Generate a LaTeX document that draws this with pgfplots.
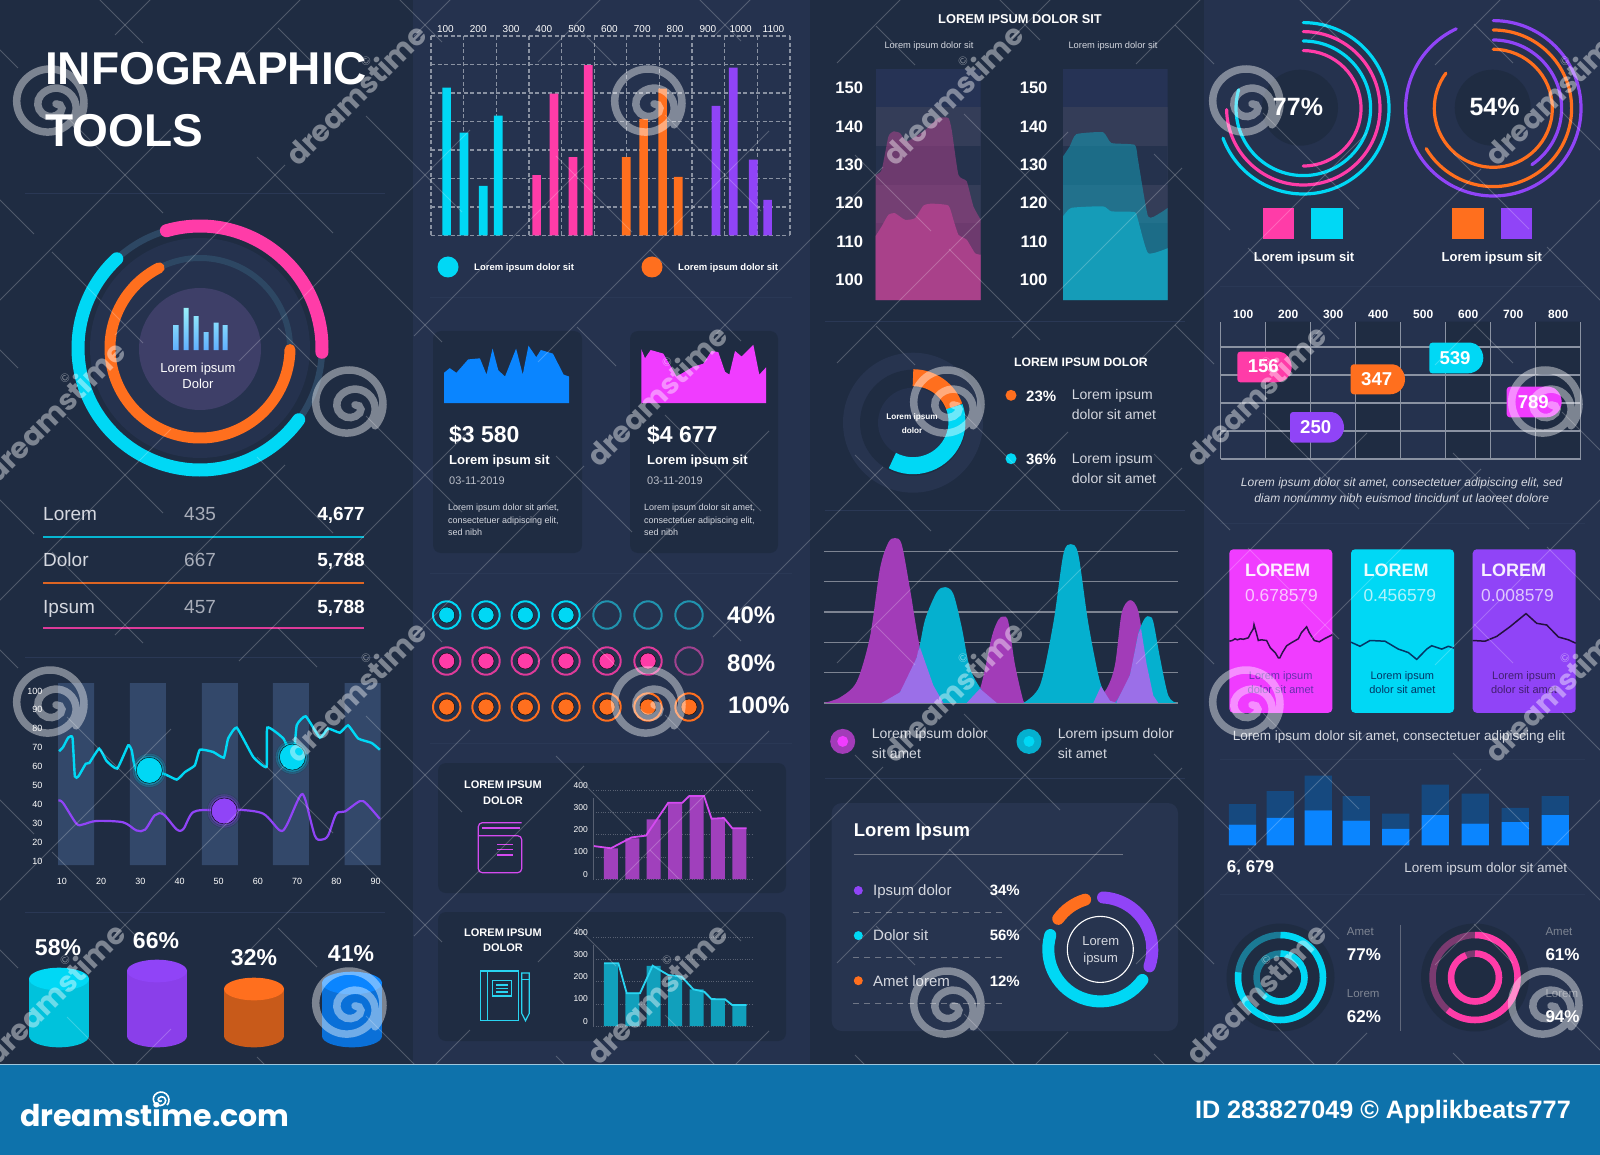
\documentclass[border=0pt]{standalone}
\usepackage{fontspec}
\usepackage{pgfplots}
\pgfplotsset{compat=1.18}
\setmainfont{Liberation Sans}
\newfontfamily\wmfont{Poppins}

\definecolor{bgA}{HTML}{1F2C42}
\definecolor{bgB}{HTML}{25324E}
\definecolor{sepc}{HTML}{2A3855}
\definecolor{cCyan}{HTML}{00D8F5}
\definecolor{cPink}{HTML}{FF3CA8}
\definecolor{cOrange}{HTML}{FF6F1E}
\definecolor{cPurple}{HTML}{9044F7}
\definecolor{cMag}{HTML}{F03CFF}
\definecolor{cBlue}{HTML}{0A85FF}
\definecolor{soft}{HTML}{D5D8E0}
\definecolor{gridg}{HTML}{6F7686}
\definecolor{gridl}{HTML}{8A92A2}

% picture units are reference pixels, y measured down from the top
\newcommand{\txt}[6]{\node[anchor=#1,inner sep=0pt,text=#5,font=\fontsize{#4}{#4}\selectfont] at (#2,-#3) {#6};}
\newcommand{\rrect}[6]{\fill[#6,rounded corners=#1pt] (#2,-#3) rectangle (#4,-#5);}
\newcommand{\seph}[3]{\draw[sepc,line width=1pt] (#1,-#3) -- (#2,-#3);}
\newcommand{\arcr}[8][line cap=round]{\draw[#7,line width=#8pt,#1] ([shift={(#5:#4pt)}]#2,-#3) arc[start angle=#5,end angle=#6,radius=#4pt];}
\newcommand{\tagshape}[5]{%
  \pgfmathsetmacro\rr{(#4-#2)/2}\pgfmathsetmacro\xm{#3-\rr}%
  \fill[#5,rounded corners=3pt] (#1,-#2) -- (\xm,-#2) [sharp corners] arc[start angle=90,end angle=-90,radius=\rr] [rounded corners=3pt] -- (#1,-#4) -- cycle;}
\newcommand{\spiral}[2]{\draw[white,opacity=.42,line width=7.5pt,line cap=round]
  ([shift={(-40:34pt)}]#1,-#2) arc[start angle=-40,end angle=140,radius=34pt]
  arc[start angle=140,end angle=320,radius=31pt]
  arc[start angle=-40,end angle=140,radius=20pt]
  arc[start angle=140,end angle=320,radius=13pt]
  arc[start angle=-40,end angle=100,radius=5pt];}

\pgfplotsset{
  base/.style={scale only axis,anchor=north west,axis line style={draw=none},tick style={draw=none},
    xtick=\empty,ytick=\empty,
    /pgf/number format/assume math mode=true,/pgf/number format/1000 sep={}},
  ticksz/.style={tick label style={font=\fontsize{#1}{#1}\selectfont,text=white}},
}
\definecolor{discc}{HTML}{3E3F68}\definecolor{track}{HTML}{2D4763}\definecolor{colbar}{HTML}{33486A}
\definecolor{cyA}{HTML}{00C2DC}\definecolor{cyB}{HTML}{8A3FEA}\definecolor{cyC}{HTML}{C85A1A}\definecolor{cyD}{HTML}{0A70D8}
\definecolor{dimC}{HTML}{2193AE}\definecolor{dimP}{HTML}{A0428F}
\definecolor{barM}{HTML}{A040BC}\definecolor{lineM}{HTML}{D44AF0}\definecolor{barT}{HTML}{11A0BC}\definecolor{lineT}{HTML}{29D5F2}
\definecolor{bandA}{HTML}{263355}\definecolor{bandB}{HTML}{343D58}\definecolor{bandC}{HTML}{25324D}
\definecolor{magA}{HTML}{A9418A}\definecolor{tealA}{HTML}{159CB8}\definecolor{dkA}{HTML}{27344F}
\definecolor{peakP}{HTML}{A23CB8}\definecolor{peakC}{HTML}{05B0CF}\definecolor{peakL}{HTML}{9B6FE8}
\definecolor{blueD}{HTML}{16497F}\definecolor{dimTeal}{HTML}{1A7A95}\definecolor{dimPink}{HTML}{7A3A70}
\definecolor{bannerc}{HTML}{0E72AB}

\begin{document}
\begin{tikzpicture}[x=1pt,y=1pt]
\path (0,0) rectangle (1600,-1155);
\begin{scope}[overlay]
\clip (0,0) rectangle (1600,-1155);
\fill[bgA] (0,0) rectangle (1600,-1155);
\fill[bgB] (413,0) rectangle (810,-1155);
\fill[bgB] (1204,0) rectangle (1600,-1155);

% separators
\seph{25}{385}{194}\seph{25}{385}{657}\seph{25}{385}{912}
\seph{430}{792}{298}\seph{430}{792}{573}\seph{430}{792}{743}
\seph{825}{1185}{322}\seph{825}{1185}{510}\seph{825}{1185}{778}
\seph{1220}{1585}{287}\seph{1220}{1585}{523}\seph{1220}{1585}{759}\seph{1220}{1585}{894}

% ---- column 1: title, ring, table
\txt{base west}{45}{85}{46}{white}{\bfseries INFOGRAPHIC}
\txt{base west}{45}{147}{46}{white}{\bfseries TOOLS}
\fill[bgB] (200,-348) circle[radius=110pt];
\fill[discc] (200,-349) circle[radius=61pt];
\arcr{200}{348}{122}{133}{106}{track}{6.5}
\arcr{200}{348}{122}{-2}{-36}{track}{6.5}
\arcr{200}{348}{122}{106}{-2}{cPink}{13}
\arcr{200}{348}{122}{133}{324}{cCyan}{13}
\arcr{200}{348}{90}{117}{-1}{track}{6}
\arcr{200}{348}{90}{117}{359}{cOrange}{11}
\begin{axis}[base,at={(170pt,-300pt)},width=62pt,height=50pt,xmin=170,xmax=232,ymin=0,ymax=50]
\addplot[ybar,bar width=5pt,bar shift=0pt,draw=none,top color=cCyan!40!white,bottom color=cBlue!65!white]
  coordinates {(176,25)(186,42)(196,34)(206,18)(216,27.5)(225,25)};
\end{axis}
\txt{base}{198}{372}{13}{white}{Lorem ipsum}
\txt{base}{198}{388}{13}{white}{Dolor}
\txt{base west}{43}{520}{19}{soft}{Lorem}
\txt{base west}{43}{566}{19}{soft}{Dolor}
\txt{base west}{43}{613}{19}{soft}{Ipsum}
\txt{base west}{184}{520}{19}{soft!75!bgA}{435}
\txt{base west}{184}{566}{19}{soft!75!bgA}{667}
\txt{base west}{184}{613}{19}{soft!75!bgA}{457}
\txt{base east}{365}{520}{19}{white}{\bfseries 4,677}
\txt{base east}{365}{566}{19}{white}{\bfseries 5,788}
\txt{base east}{365}{613}{19}{white}{\bfseries 5,788}
\draw[cCyan!80!bgA,line width=1.2pt] (43,-537) -- (364,-537);
\draw[cOrange!85!bgA,line width=1.2pt] (43,-583) -- (364,-583);
\draw[cPink!85!bgA,line width=1.2pt] (43,-628) -- (364,-628);

% ---- column 1: lines over columns
\begin{axis}[base,ticksz=9,at={(58pt,-683pt)},width=323pt,height=182pt,xmin=9,xmax=91.4,ymin=7.9,ymax=104.2,
  xtick={10,20,...,90},ytick={10,20,...,100},
  xticklabel style={yshift=-10pt},yticklabel style={xshift=-12pt}]
\addplot[ybar,bar width=36pt,bar shift=0pt,fill=colbar,draw=none]
  coordinates {(13.6,104.2)(31.9,104.2)(50.3,104.2)(68.4,104.2)(86.7,104.2)};
\addplot[cCyan,line width=2.4pt,smooth,tension=.25] coordinates {
 (9.3,68.1)(10.3,70.3)(11.6,75.3)(12.7,75.3)(13.3,54.8)(14.2,54.8)(16.1,61.5)(17,61.9)(19.5,69.5)
 (21.4,62.9)(24.1,58.9)(26.9,71.2)(27.8,68.6)(29,58)(35.9,56.2)(39.3,53.1)(41.4,57.1)(43.9,60.6)
 (45.2,68.9)(48.6,67.7)(51.3,64.7)(52.4,74.8)(54.6,80.6)(58.8,65.1)(62.2,59.8)(62.4,80.6)(66.5,74.8)
 (69,64.2)(69.9,81.8)(72.2,86.6)(75.8,75.3)(77.9,80.1)(80.9,77.9)(83,81.8)(85.6,74.8)(89,72.5)(91.1,68.9)};
\addplot[cPurple,line width=2.2pt,smooth] coordinates {
 (9.1,42.1)(10.3,40.7)(13.7,29.8)(15.4,29.4)(18.8,31.2)(25.6,30.5)(29,26.2)(31.2,26.6)(33.7,34.2)
 (35.9,34.7)(39.3,26.7)(41,27)(43.5,35.9)(48.6,37.1)(55.4,37.1)(61.4,35)(65.6,26.2)(67.3,28.8)
 (70.7,44.2)(72,43)(74.5,23.5)(76.2,21.3)(77.9,23.5)(80,35)(82.2,36.2)(86,41.7)(87.7,40.3)(91.1,32.3)};
\addplot[only marks,mark=*,mark size=17pt,mark options={draw=none,fill=cCyan,opacity=.18}] coordinates {(32.3,58)(68.8,65)};
\addplot[only marks,mark=*,mark size=15pt,mark options={draw=none,fill=cCyan,opacity=.3}] coordinates {(32.3,58)(68.8,65)};
\addplot[only marks,mark=*,mark size=17pt,mark options={draw=none,fill=cPurple,opacity=.18}] coordinates {(51.4,36.5)};
\addplot[only marks,mark=*,mark size=15pt,mark options={draw=none,fill=cPurple,opacity=.3}] coordinates {(51.4,36.5)};
\addplot[only marks,mark=*,mark size=13pt,mark options={draw=none,fill=cCyan}] coordinates {(32.3,58)(68.8,65)};
\addplot[only marks,mark=*,mark size=13pt,mark options={draw=none,fill=cPurple}] coordinates {(51.4,36.5)};
\end{axis}

% ---- column 1: cylinders
\begin{axis}[base,at={(0pt,-940pt)},width=400pt,height=96pt,xmin=0,xmax=400,ymin=0,ymax=96,clip=false]
\fill[cyA] (axis cs:59,0) ellipse[x radius=30pt,y radius=11.3pt];
\fill[cyB] (axis cs:157,0) ellipse[x radius=30pt,y radius=11.3pt];
\fill[cyC] (axis cs:254,0) ellipse[x radius=30pt,y radius=11.3pt];
\fill[cyD] (axis cs:352,0) ellipse[x radius=30pt,y radius=11.3pt];
\addplot[ybar,bar width=60pt,bar shift=0pt,fill=cyA,draw=none] coordinates {(59,57)};
\addplot[ybar,bar width=60pt,bar shift=0pt,fill=cyB,draw=none] coordinates {(157,65)};
\addplot[ybar,bar width=60pt,bar shift=0pt,fill=cyC,draw=none] coordinates {(254,47)};
\addplot[ybar,bar width=60pt,bar shift=0pt,fill=cyD,draw=none] coordinates {(352,53)};
\fill[cCyan] (axis cs:59,57) ellipse[x radius=30pt,y radius=11.3pt];
\fill[cPurple] (axis cs:157,65) ellipse[x radius=30pt,y radius=11.3pt];
\fill[cOrange] (axis cs:254,47) ellipse[x radius=30pt,y radius=11.3pt];
\fill[cBlue] (axis cs:352,53) ellipse[x radius=30pt,y radius=11.3pt];
\end{axis}
\txt{base}{58}{955}{23}{white}{\bfseries 58\%}
\txt{base}{156}{948}{23}{white}{\bfseries 66\%}
\txt{base}{254}{965}{23}{white}{\bfseries 32\%}
\txt{base}{351}{961}{23}{white}{\bfseries 41\%}

% ---- column 2: grouped bars
\begin{axis}[base,ticksz=10,at={(431pt,-36pt)},width=359pt,height=199.5pt,xmin=56,xmax=1150.5,ymin=0,ymax=70,
  xtick={100,200,...,1100},xticklabel pos=top,
  minor xtick={56,155.5,255,354.5,454,553.5,653,752.5,852,951.5,1051,1150.5},xminorgrids=true,
  ytick={0,10,...,70},yticklabels={},ymajorgrids=true,
  grid style={dash pattern=on 4pt off 2.5pt,gridl,line width=1.2pt},minor grid style={dash pattern=on 4pt off 2.5pt,gridl,line width=1.2pt}]
\addplot[ybar,bar width=8.7pt,bar shift=0pt,fill=cCyan,draw=none] coordinates {(103.6,51.9)(156.4,36.1)(215.3,17.4)(261.1,42.1)};
\addplot[ybar,bar width=8.7pt,bar shift=0pt,fill=cPink,draw=none] coordinates {(378,21.2)(430.8,49.8)(488.7,27.5)(535.4,59.8)};
\addplot[ybar,bar width=8.7pt,bar shift=0pt,fill=cOrange,draw=none] coordinates {(651.3,27.5)(704.2,40.9)(762.1,51.5)(809.9,20.6)};
\addplot[ybar,bar width=8.7pt,bar shift=0pt,fill=cPurple,draw=none] coordinates {(924.7,45.5)(977.4,58.9)(1038.4,26.6)(1082.3,12.5)};
\end{axis}
\fill[cCyan] (448,-267) circle[radius=10.5pt];
\fill[cOrange] (652,-267) circle[radius=10.5pt];
\txt{base west}{474}{270.5}{9.5}{white}{\bfseries Lorem ipsum dolor sit}
\txt{base west}{678}{270.5}{9.5}{white}{\bfseries Lorem ipsum dolor sit}

% ---- column 2: cards
\rrect{8}{433}{331}{582}{553}{bgA}
\rrect{8}{630}{331}{778}{553}{bgA}
\begin{axis}[base,at={(444pt,-343pt)},width=125pt,height=60pt,xmin=0,xmax=124.3,ymin=0,ymax=60]
\addplot[fill=cBlue,draw=none] coordinates {(0,30.2)(5.7,34.9)(12.3,30.2)(24,43.6)(35.7,44.7)(42.3,28.4)(48.3,54.5)(54,32.7)(60.7,26.5)(71.7,54.5)(78.3,28.4)(84,57.4)(91.7,45.8)(96.3,53)(108.3,49.4)(119,28.4)(124.3,26.5)} \closedcycle;
\end{axis}
\begin{axis}[base,at={(641.3pt,-343pt)},width=124.7pt,height=60pt,xmin=0,xmax=124.7,ymin=0,ymax=60]
\addplot[fill=cMag,draw=none] coordinates {(0,53.8)(3.7,44.7)(9.3,53)(22,49.4)(35.3,26.5)(52,36.3)(62,39.3)(70.3,52)(77,50.9)(83.7,31.3)(88,28.4)(93.7,52)(100.3,46.5)(112,58.2)(118,28.4)(124.7,35.6)} \closedcycle;
\end{axis}
\txt{base west}{449}{442}{23}{white}{\bfseries \$3 580}
\txt{base west}{449}{464.5}{13}{white}{\bfseries Lorem ipsum sit}
\txt{base west}{449}{484.5}{11}{soft!85!bgA}{03-11-2019}
\txt{base west}{448}{510.7}{9}{soft}{Lorem ipsum dolor sit amet,}
\txt{base west}{448}{523.4}{9}{soft}{consectetuer adipiscing elit,}
\txt{base west}{448}{535.5}{9}{soft}{sed nibh}
\txt{base west}{647}{442}{23}{white}{\bfseries \$4 677}
\txt{base west}{647}{464.5}{13}{white}{\bfseries Lorem ipsum sit}
\txt{base west}{647}{484.5}{11}{soft!85!bgA}{03-11-2019}
\txt{base west}{644}{510.7}{9}{soft}{Lorem ipsum dolor sit amet,}
\txt{base west}{644}{523.4}{9}{soft}{consectetuer adipiscing elit,}
\txt{base west}{644}{535.5}{9}{soft}{sed nibh}

% ---- column 2: dot rows
\begin{axis}[base,at={(0pt,0pt)},width=1600pt,height=1155pt,xmin=0,xmax=1600,ymin=0,ymax=1155,y dir=reverse,clip=false]
\addplot[only marks,mark=o,mark size=13.7pt,mark options={draw=cCyan,line width=2pt}] coordinates {(446.7,615)(486,615)(525.3,615)(566,615)};
\addplot[only marks,mark=o,mark size=13.7pt,mark options={draw=dimC,line width=2pt}] coordinates {(607,615)(648,615)(689,615)};
\addplot[only marks,mark=*,mark size=8pt,mark options={draw=none,fill=cCyan}] coordinates {(446.7,615)(486,615)(525.3,615)(566,615)};
\addplot[only marks,mark=o,mark size=13.7pt,mark options={draw=cPink!85!bgB,line width=2pt}] coordinates {(446.7,661)(486,661)(525.3,661)(566,661)(607,661)(648,661)};
\addplot[only marks,mark=o,mark size=13.7pt,mark options={draw=dimP,line width=2pt}] coordinates {(689,661)};
\addplot[only marks,mark=*,mark size=8pt,mark options={draw=none,fill=cPink}] coordinates {(446.7,661)(486,661)(525.3,661)(566,661)(607,661)(648,661)};
\addplot[only marks,mark=o,mark size=13.7pt,mark options={draw=cOrange,line width=2pt}] coordinates {(446.7,707)(486,707)(525.3,707)(566,707)(607,707)(648,707)(689,707)};
\addplot[only marks,mark=*,mark size=8pt,mark options={draw=none,fill=cOrange}] coordinates {(446.7,707)(486,707)(525.3,707)(566,707)(607,707)(648,707)(689,707)};
\end{axis}
\txt{base west}{727}{623}{24}{white}{\bfseries 40\%}
\txt{base west}{727}{671}{24}{white}{\bfseries 80\%}
\txt{base west}{728}{713}{24}{white}{\bfseries 100\%}

% ---- column 2: small combo charts
\rrect{8}{438}{763}{786}{893}{bgA}
\rrect{8}{438}{912}{786}{1041}{bgA}
\txt{base}{503}{788}{11}{white}{\bfseries LOREM IPSUM}
\txt{base}{503}{804}{11}{white}{\bfseries DOLOR}
\txt{base}{503}{936}{11}{white}{\bfseries LOREM IPSUM}
\txt{base}{503}{951}{11}{white}{\bfseries DOLOR}
\begin{axis}[base,ticksz=8.5,at={(593.3pt,-790pt)},width=160pt,height=89pt,xmin=0.18,xmax=7.65,ymin=0,ymax=400,clip=false,
  ytick={0,100,...,400},ymajorgrids=true,grid style={dotted,gridg!70!bgA},yticklabel style={yshift=4.7pt,xshift=-2pt}]
\draw[gridg!70!bgA] (axis cs:0.18,0) -- (axis cs:0.18,362);
\addplot[ybar,bar width=14pt,bar shift=0pt,fill=barM,draw=none] coordinates {(1,138)(2,183)(3,268)(4,345)(5,375)(6,274)(7,228)};
\addplot[lineM,line width=1.8pt] coordinates {(0.21,148)(1,138)(1.97,187)(2.64,195)(3.68,343)(4.34,343)(4.66,373)(5.35,373)(5.7,271)(6.28,274)(6.67,228)(7.34,228)};
\end{axis}
\begin{axis}[base,ticksz=8.5,at={(593.3pt,-937pt)},width=160pt,height=89pt,xmin=0.18,xmax=7.65,ymin=0,ymax=400,clip=false,
  ytick={0,100,...,400},ymajorgrids=true,grid style={dotted,gridg!70!bgA},yticklabel style={yshift=4.7pt,xshift=-2pt}]
\draw[gridg!70!bgA] (axis cs:0.18,0) -- (axis cs:0.18,362);
\addplot[ybar,bar width=14pt,bar shift=0pt,fill=barT,draw=none] coordinates {(1,282)(2,150)(3,270)(4,222)(5,165)(6,121)(7,94)};
\addplot[lineT,line width=1.8pt] coordinates {(0.68,282)(1.35,282)(1.74,147)(2.36,147)(2.95,271)(3.68,229)(4.3,222)(4.85,165)(5.36,154)(5.7,121)(6.33,120)(6.67,94)(7.34,94)};
\end{axis}
% icons
\begin{scope}[draw=lineM,line width=1.2pt,rounded corners=4pt]
\draw (521.7,-822.7) -- (478.3,-822.7) -- (478.3,-872.7) -- (521.7,-872.7) -- (521.7,-835.7) -- (478.3,-835.7);
\draw (520,-828) -- (482,-828);
\end{scope}
\draw[lineM,line width=1.1pt] (497.3,-844.3) -- (513.3,-844.3) (497.3,-849.5) -- (513.3,-849.5) (497.3,-855) -- (513.3,-855);
\begin{scope}[draw=lineT,line width=1.2pt]
\draw (480.7,-971) rectangle (518.3,-1020.7);
\draw (487.3,-971) -- (487.3,-1020.7);
\draw (492.7,-980.7) rectangle (511.7,-996);
\draw (496,-985) -- (508,-985) (496,-988.5) -- (508,-988.5) (496,-992) -- (508,-992);
\draw (521.7,-973) -- (529.3,-973) -- (529.3,-1013.3) -- (525.5,-1020.7) -- (521.7,-1013.3) -- cycle;
\draw (521.7,-979.3) -- (529.3,-979.3);
\end{scope}

% ---- column 3: layered areas
\txt{base}{1020}{24}{12.8}{white}{\bfseries LOREM IPSUM DOLOR SIT}
\txt{base}{929}{49}{9.3}{soft}{Lorem ipsum dolor sit}
\txt{base}{1113}{49}{9.3}{soft}{Lorem ipsum dolor sit}
\begin{axis}[base,at={(875.7pt,-69.3pt)},width=105pt,height=230.7pt,xmin=0,xmax=105,ymin=94.8,ymax=154.9,
  ytick={100,110,...,150},tick label style={font=\fontsize{16.6}{16.6}\selectfont\bfseries,text=white},yticklabel style={xshift=-9pt}]
\addplot[fill=bandA,draw=none] coordinates {(0,154.9)(105,154.9)} \closedcycle;
\addplot[fill=bandB,draw=none] coordinates {(0,145.1)(105,145.1)} \closedcycle;
\addplot[fill=bandC,draw=none] coordinates {(0,134.8)(105,134.8)} \closedcycle;
\addplot[fill=bandB,draw=none] coordinates {(0,124.8)(105,124.8)} \closedcycle;
\addplot[fill=bandC,draw=none] coordinates {(0,114.8)(105,114.8)} \closedcycle;
\addplot[fill=magA,fill opacity=.55,draw=none,smooth,tension=.3] coordinates {(0,127.4)(6,128.7)(12.7,137.4)(17.7,138.7)(24.3,138.3)(31,136.1)(47.7,138.7)(62.7,142.2)(72.7,142.2)(76,139.1)(82.7,127.4)(91,125.7)(97.7,119.2)(105,115.7)} \closedcycle;
\addplot[fill=magA,draw=none,smooth,tension=.3] coordinates {(0,111.5)(6,114)(12.7,117)(19.3,117.4)(29.3,115.7)(39.3,116.1)(47.7,119.4)(56,119.9)(72.7,119.4)(77.7,115.7)(82.7,111.8)(91,110.5)(99.3,107)(105,106.6)} \closedcycle;
\end{axis}
\begin{axis}[base,at={(1063pt,-69.3pt)},width=104.7pt,height=230.7pt,xmin=0,xmax=104.7,ymin=94.8,ymax=154.9,
  ytick={100,110,...,150},tick label style={font=\fontsize{16.6}{16.6}\selectfont\bfseries,text=white},yticklabel style={xshift=-12pt}]
\addplot[fill=bandA,draw=none] coordinates {(0,154.9)(105,154.9)} \closedcycle;
\addplot[fill=bandB,draw=none] coordinates {(0,145.1)(105,145.1)} \closedcycle;
\addplot[fill=bandC,draw=none] coordinates {(0,134.8)(105,134.8)} \closedcycle;
\addplot[fill=bandB,draw=none] coordinates {(0,124.8)(105,124.8)} \closedcycle;
\addplot[fill=bandC,draw=none] coordinates {(0,114.8)(105,114.8)} \closedcycle;
\addplot[fill=tealA,fill opacity=.55,draw=none,smooth,tension=.3] coordinates {(0,132.2)(6.7,134.8)(13.3,138)(40,138.5)(48.3,135.7)(71.7,135.2)(75,131.3)(85,116.6)(96.7,117.4)(104.7,118.8)} \closedcycle;
\addplot[fill=tealA,draw=none,smooth,tension=.3] coordinates {(0,116.6)(8.3,118.8)(40,119.2)(48.3,117.9)(71.7,117.7)(75,115.7)(85,107)(104.7,108.3)} \closedcycle;
\end{axis}

% ---- column 3: donut and legend
\fill[dkA] (913,-422.7) circle[radius=70pt];
\fill[bgA] (913,-422.7) circle[radius=53pt];
\fill[bgB] (913,-422.7) circle[radius=35pt];
\arcr[line cap=butt]{913}{421.7}{44}{90}{20}{cOrange}{17}
\arcr[line cap=butt]{913}{421.7}{44}{20}{-118}{cCyan}{17}
\txt{base}{912}{419}{8.2}{white}{\bfseries Lorem ipsum}
\txt{base}{912}{433.7}{8.2}{white}{\bfseries dolor}
\txt{base west}{1014}{366.7}{12.2}{white}{\bfseries LOREM IPSUM DOLOR}
\fill[cOrange] (1011,-395.3) circle[radius=5.5pt];
\fill[cCyan] (1011,-458.7) circle[radius=5.5pt];
\txt{base west}{1026}{401}{15}{white}{\bfseries 23\%}
\txt{base west}{1026}{464}{15}{white}{\bfseries 36\%}
\txt{base west}{1071.7}{399}{14}{soft}{Lorem ipsum}
\txt{base west}{1071.7}{419.3}{14}{soft}{dolor sit amet}
\txt{base west}{1071.7}{463}{14}{soft}{Lorem ipsum}
\txt{base west}{1071.7}{483}{14}{soft}{dolor sit amet}

% ---- column 3: overlapping peaks
\begin{axis}[base,at={(824pt,-521.1pt)},width=354pt,height=181.8pt,xmin=0,xmax=354,ymin=0,ymax=60,
  ytick={0,10,...,50},yticklabels={},ymajorgrids=true,grid style={gridg!90!white,line width=1.3pt}]
\addplot[fill=peakP,draw=none,smooth] coordinates {(0,0)(16,1.8)(32.7,7)(46,21.9)(56,44.4)(64.3,52.9)(71,54.4)(77.7,52.3)(86,37.6)(96,18.3)(109.3,5.8)(119.3,0)} \closedcycle;
\addplot[fill=peakP,draw=none,smooth] coordinates {(142.7,0)(156,4.7)(167.7,21.7)(174.3,27.4)(179.3,28.5)(184.3,26.8)(191,12.6)(199.3,0.7)(202.7,0)} \closedcycle;
\addplot[fill=peakP,draw=none,smooth] coordinates {(269.3,0)(282.7,4.7)(291,12.6)(297.7,29.7)(306,33.9)(314.3,30.2)(322.7,12.6)(329.3,2.4)(334.3,0)} \closedcycle;
\addplot[fill=peakC,draw=none,smooth] coordinates {(57.7,0)(76,3.5)(92.7,14.9)(101,27.4)(112.7,36.5)(121,38.2)(129.3,36)(137.7,25)(146,11.4)(159.3,3.5)(172.7,0)} \closedcycle;
\addplot[fill=peakC,draw=none,smooth] coordinates {(199.3,0)(216,5.8)(229.3,26.3)(239.3,49)(246.7,52.4)(254.3,49)(264.3,26.3)(276,7)(286,0.7)(292.7,0)} \closedcycle;
\addplot[fill=peakC,draw=none,smooth] coordinates {(287.7,0)(292.7,0.7)(306,9.2)(314.3,22.8)(321,28)(325.3,28.5)(329.3,26.8)(336,14.9)(344.3,2.4)(352.7,0)} \closedcycle;
\addplot[fill=peakL,draw=none] coordinates {(57.7,0)(76,3.5)(92.7,14.9)(94,17)(96,18.3)(109.3,5.8)(119.3,0)} \closedcycle;
\addplot[fill=peakL,draw=none] coordinates {(142.7,0)(156,4.7)(157,4.4)(172.7,0)} \closedcycle;
\addplot[fill=peakL,draw=none] coordinates {(269.3,0)(277,5.5)(286,0.7)(292.7,0)} \closedcycle;
\addplot[fill=peakL,draw=none] coordinates {(292.7,0.4)(306,9.2)(314.3,22.8)(317,24.6)(322.7,12.6)(329.3,2.4)(334.3,0)} \closedcycle;
\end{axis}
\fill[peakP] (842.7,-741.4) circle[radius=12.5pt];
\fill[cMag] (842.7,-741.4) circle[radius=5.5pt];
\fill[peakC] (1029,-741.4) circle[radius=12.5pt];
\fill[cCyan] (1029,-741.4) circle[radius=5.5pt];
\txt{base west}{871.7}{738.7}{14}{soft}{Lorem ipsum dolor}
\txt{base west}{871.7}{758.6}{14}{soft}{sit amet}
\txt{base west}{1057.7}{738.7}{14}{soft}{Lorem ipsum dolor}
\txt{base west}{1057.7}{758.6}{14}{soft}{sit amet}

% ---- column 3: list panel
\rrect{10}{831.7}{803}{1178}{1031}{dkA}
\txt{base west}{853.7}{836}{18.5}{white}{\bfseries Lorem Ipsum}
\draw[gridg,line width=1pt] (853.7,-854.7) -- (1123,-854.7);
\fill[cPurple] (858.3,-890.5) circle[radius=4.5pt];
\fill[cCyan] (858.3,-935.6) circle[radius=4.5pt];
\fill[cOrange] (858.3,-980.7) circle[radius=4.5pt];
\txt{base west}{873}{895.3}{15}{soft}{Ipsum dolor}
\txt{base west}{873}{940.8}{15}{soft}{Dolor sit}
\txt{base west}{873}{986}{15}{soft}{Amet lorem}
\txt{base east}{1020}{895.3}{15}{white}{\bfseries 34\%}
\txt{base east}{1020}{940.8}{15}{white}{\bfseries 56\%}
\txt{base east}{1020}{986}{15}{white}{\bfseries 12\%}
\draw[gridg,dash pattern=on 6pt off 5pt] (853,-911.9) -- (1006.7,-911.9) (853,-957.3) -- (1006.7,-957.3) (853,-1003) -- (1006.7,-1003);
\arcr{1100.3}{949.4}{52}{87}{-19}{cPurple}{12}
\arcr{1100.3}{949.4}{52}{164}{324}{cCyan}{12}
\arcr{1100.3}{949.4}{52}{144}{107}{cOrange}{12}
\draw[white,line width=1.1pt] (1100.3,-949.4) circle[radius=33pt];
\txt{base}{1100.7}{945}{13}{soft}{Lorem}
\txt{base}{1100.7}{962}{13}{soft}{ipsum}

% ---- column 4: concentric gauges
\fill[bgA] (1300,-107.7) circle[radius=38pt];
\fill[bgA] (1492.7,-107.7) circle[radius=38pt];
\arcr{1303.3}{108.3}{85.7}{90}{-159.6}{cCyan}{3.2}
\arcr{1303.3}{108.3}{76.7}{90}{-179}{cPink}{3.2}
\arcr{1303.3}{108.3}{67.3}{90}{-196}{cCyan}{3.2}
\arcr{1303.3}{108.3}{57.7}{90}{-90}{cPink}{3.2}
\arcr{1493.3}{108.3}{87.7}{90}{-245}{cPurple}{3.2}
\arcr{1493.3}{108.3}{78.3}{90}{-149}{cOrange}{3.2}
\arcr{1493.3}{108.3}{68.3}{90}{-55.6}{cPurple}{3.2}
\arcr{1493.3}{108.3}{59}{90}{-216.5}{cOrange}{3.2}
\txt{base}{1298}{115.7}{25}{white}{\bfseries 77\%}
\txt{base}{1494.5}{115.7}{25}{white}{\bfseries 54\%}
\fill[cPink] (1262.7,-207.7) rectangle (1294,-239);
\fill[cCyan] (1311.3,-207.7) rectangle (1342.7,-239);
\fill[cOrange] (1452.3,-207.7) rectangle (1484,-239);
\fill[cPurple] (1501,-207.7) rectangle (1532.3,-239);
\txt{base}{1304}{261.7}{13}{white}{\bfseries Lorem ipsum sit}
\txt{base}{1491.8}{261.7}{13}{white}{\bfseries Lorem ipsum sit}

% ---- column 4: table grid with tags
\begin{axis}[base,axis on top,at={(1220.7pt,-321.7pt)},width=360pt,height=137.3pt,xmin=50,xmax=850,ymin=0,ymax=4.9,
  xtick={100,200,...,800},xticklabel pos=top,
  tick label style={font=\fontsize{12}{12}\selectfont\bfseries,text=white},
  minor xtick={50,150,...,850},xminorgrids=true,ytick={0,1,2,3,4},yticklabels={},ymajorgrids=true,
  grid style={gridl,line width=1.4pt},minor grid style={gridl,line width=1.4pt}]
\addplot[ybar,bar width=45pt,bar shift=0pt,fill=bgA,draw=none] coordinates {(200,4.9)(400,4.9)(600,4.9)(800,4.9)};
\end{axis}
\tagshape{1237.3}{351.7}{1291.7}{382.3}{cPink}
\tagshape{1350.7}{364.3}{1405}{394.3}{cOrange}
\tagshape{1429.3}{342.7}{1483.3}{373.3}{cCyan}
\tagshape{1506.7}{386.7}{1561.7}{417.3}{cMag}
\tagshape{1290}{412}{1344}{442.7}{cPurple}
\txt{base}{1263.3}{372.7}{18.6}{white}{\bfseries 156}
\txt{base}{1376.7}{385.7}{18.6}{white}{\bfseries 347}
\txt{base}{1455}{364.3}{18.6}{white}{\bfseries 539}
\txt{base}{1533.3}{408.3}{18.6}{white}{\bfseries 789}
\txt{base}{1315.7}{433.3}{18.6}{white}{\bfseries 250}
\txt{base}{1401.7}{486}{12}{soft}{\itshape Lorem ipsum dolor sit amet, consectetuer adipiscing elit, sed}
\txt{base}{1401.7}{502.3}{12}{soft}{\itshape diam nonummy nibh euismod tincidunt ut laoreet dolore}

% ---- column 4: coloured cards
\rrect{4}{1229.3}{549.3}{1332.3}{712.8}{cMag}
\rrect{4}{1351}{549.3}{1454}{712.8}{cCyan}
\rrect{4}{1472.7}{549.3}{1575.7}{712.8}{cPurple}
\txt{base west}{1245}{576.8}{18}{white!92!cMag}{\bfseries LOREM}
\txt{base west}{1245}{601}{17.4}{white!70!cMag}{0.678579}
\txt{base west}{1363.3}{576.8}{18}{white!92!cCyan}{\bfseries LOREM}
\txt{base west}{1363.3}{601}{17.4}{white!70!cCyan}{0.456579}
\txt{base west}{1481}{576.8}{18}{white!92!cPurple}{\bfseries LOREM}
\txt{base west}{1481}{601}{17.4}{white!70!cPurple}{0.008579}
\begin{axis}[base,at={(1229.3pt,-549.3pt)},width=103pt,height=163.5pt,xmin=0,xmax=103,ymin=0,ymax=163.5,clip=false]
\addplot[color=black!70!cPurple,line width=1.5pt] coordinates {(0,71.6)(3,72.3)(5.7,74)(8,73)(11,74)(14,73.5)(19,75)(21,79)(24,84)(24.7,88.2)(27,80)(29,72.3)(32,73)(37.3,72.3)(41,65)(46,60)(49,55)(50.5,55)(53,60)(57.3,67)(62,70)(69,74)(72,80)(77.3,86)(80,80)(85,72.3)(90,71)(95,74)(103,78)};
\end{axis}
\begin{axis}[base,at={(1351pt,-549.3pt)},width=103pt,height=163.5pt,xmin=0,xmax=103,ymin=0,ymax=163.5,clip=false]
\addplot[color=black!60!cBlue,line width=1.5pt] coordinates {(0,70.6)(9,66.5)(19,72.3)(34,71.6)(47.3,63.7)(57.3,60.3)(65.7,53.4)(75.7,63.7)(80.7,67.1)(90.7,63.7)(97.3,66.5)(103,64.7)};
\end{axis}
\begin{axis}[base,at={(1472.7pt,-549.3pt)},width=103pt,height=163.5pt,xmin=0,xmax=103,ymin=0,ymax=163.5,clip=false]
\addplot[color=black!75!cPurple,line width=1.5pt] coordinates {(0,72.3)(12.3,71.6)(24,76.4)(37.3,86.1)(53.3,99.2)(64,89.5)(74,87.8)(85.7,75.8)(95.7,73)(103,69.6)};
\end{axis}
\txt{base}{1280.7}{679.4}{11}{cPurple!70!black}{Lorem ipsum}
\txt{base}{1280.7}{693.9}{11}{cPurple!70!black}{dolor sit amet}
\txt{base}{1402.3}{679.4}{11}{cBlue!40!black}{Lorem ipsum}
\txt{base}{1402.3}{693.9}{11}{cBlue!40!black}{dolor sit amet}
\txt{base}{1524}{679.4}{11}{cPurple!45!black}{Lorem ipsum}
\txt{base}{1524}{693.9}{11}{cPurple!45!black}{dolor sit amet}
\txt{base}{1399}{740.4}{13.5}{soft}{Lorem ipsum dolor sit amet, consectetuer adipiscing elit}

% ---- column 4: stacked bars
\begin{axis}[base,at={(1220pt,-765.4pt)},width=360pt,height=80pt,xmin=1220,xmax=1580,ymin=0,ymax=80,ybar stacked,bar width=27.3pt]
\addplot[fill=cBlue,draw=none] coordinates {(1242.5,20.7)(1280.3,27.5)(1318.3,35.1)(1356.3,24.8)(1395.7,16.5)(1435.2,30.3)(1475.3,21.7)(1515.3,23.4)(1555.3,30.3)};
\addplot[fill=blueD,draw=none] coordinates {(1242.5,20.6)(1280.3,26.9)(1318.3,34.8)(1356.3,24.4)(1395.7,15.2)(1435.2,30.6)(1475.3,30)(1515.3,14.2)(1555.3,18.9)};
\end{axis}
\txt{base west}{1226.7}{872.3}{17}{white}{\bfseries 6, 679}
\txt{base east}{1567.3}{872.3}{13.5}{soft}{Lorem ipsum dolor sit amet}

% ---- column 4: double rings
\fill[bgA] (1280.5,-977.5) circle[radius=54pt];
\fill[bgA] (1475,-977.5) circle[radius=54pt];
\draw[dimTeal,line width=6.5pt] (1280.5,-977.5) circle[radius=42.5pt];
\draw[dimTeal,line width=6.5pt] (1280.5,-977.5) circle[radius=24pt];
\arcr[line cap=butt]{1280.5}{977.5}{42.5}{90}{-187}{cCyan}{6.5}
\arcr[line cap=butt]{1280.5}{977.5}{24}{90}{-133}{cCyan}{6.5}
\draw[dimPink,line width=6.5pt] (1475,-977.5) circle[radius=42.5pt];
\draw[dimPink,line width=6.5pt] (1475,-977.5) circle[radius=24pt];
\arcr[line cap=butt]{1475}{977.5}{42.5}{90}{-130}{cPink}{6.5}
\arcr[line cap=butt]{1475}{977.5}{24}{90}{-248}{cPink}{6.5}
\draw[gridg!80!bgB,line width=1pt] (1400.7,-924.6) -- (1400.7,-1030.7);
\txt{base west}{1346.7}{935.6}{11.5}{gridg!90!white}{Amet}
\txt{base west}{1346.7}{960.8}{17}{white}{\bfseries 77\%}
\txt{base west}{1346.7}{997}{11.5}{gridg!90!white}{Lorem}
\txt{base west}{1346.7}{1022}{17}{white}{\bfseries 62\%}
\txt{base west}{1545.3}{935.6}{11.5}{gridg!90!white}{Amet}
\txt{base west}{1545.3}{960.8}{17}{white}{\bfseries 61\%}
\txt{base west}{1545.3}{997}{11.5}{gridg!90!white}{Lorem}
\txt{base west}{1545.3}{1022}{17}{white}{\bfseries 94\%}

% ---- stock-image overlay as in the reference
\begin{scope}[draw=white,draw opacity=.22,line width=.8pt]
\foreach \k in {1,...,17}{\foreach \n in {-1,...,5}{
  \ifodd\k\relax
    \pgfmathsetmacro\a{115+299*\n}\pgfmathsetmacro\b{285+299*\n}
  \else
    \pgfmathsetmacro\a{-60+299*\n}\pgfmathsetmacro\b{171+299*\n}
  \fi
  \pgfmathsetmacro\s{150*\k}
  \draw (\a,{-(\s-\a)}) -- (\b,{-(\s-\b)});
}}
\foreach \m in {-10,...,7}{\foreach \n in {-1,...,5}{
  \pgfmathsetmacro\c{100-150*\m}
  \ifodd\m\relax
    \pgfmathsetmacro\a{67+299*\n}\pgfmathsetmacro\b{163+299*\n}
    \pgfmathsetmacro\d{278+299*\n}\pgfmathsetmacro\e{317+299*\n}
  \else
    \pgfmathsetmacro\a{52+299*\n}\pgfmathsetmacro\b{143+299*\n}
    \pgfmathsetmacro\d{257+299*\n}\pgfmathsetmacro\e{333+299*\n}
  \fi
  \draw (\a,{-(\a-\c)}) -- (\b,{-(\b-\c)});
  \draw (\d,{-(\d-\c)}) -- (\e,{-(\e-\c)});
}}
\end{scope}
\foreach \x/\y in {298/168,-3/485,-3/1067,599/469,599/1067,895/168,895/765,298/765,1198/469,1198/1067,1497/168,1497/765}{
  \node[anchor=base west,inner sep=0pt,rotate=45,text=white,text opacity=.42,font=\wmfont\bfseries\fontsize{29}{29}\selectfont] at (\x,-\y) {dreamstime};
  \node[inner sep=0pt,rotate=45,text=white,text opacity=.42,font=\wmfont\fontsize{12}{12}\selectfont] at ({\x+68},{-\y+107}) {©};
}
\spiral{50}{103}\spiral{349}{404}\spiral{648}{103}\spiral{648}{704}\spiral{349}{1005}\spiral{947}{404}
\spiral{947}{1005}\spiral{1246}{103}\spiral{1246}{704}\spiral{1545}{404}\spiral{1545}{1005}\spiral{50}{704}

% ---- banner
\fill[bannerc] (0,-1064) rectangle (1600,-1155);
\draw[white!60!bannerc,line width=1pt] (0,-1064) -- (1600,-1064);
\node[anchor=base west,inner sep=0pt,text=white,font=\wmfont\bfseries\fontsize{30}{30}\selectfont] at (20,-1126.7) {dreamstime.com};
\draw[white,line width=1.6pt] ([shift={(-40:8pt)}]161,-1100) arc[start angle=-40,end angle=140,radius=8pt]
  arc[start angle=140,end angle=320,radius=6.5pt] arc[start angle=-40,end angle=140,radius=4pt]
  arc[start angle=140,end angle=320,radius=2pt];
\txt{base east}{1571}{1118}{25.2}{white}{\bfseries ID 283827049 © Applikbeats777}
\end{scope}
\end{tikzpicture}
\end{document}
